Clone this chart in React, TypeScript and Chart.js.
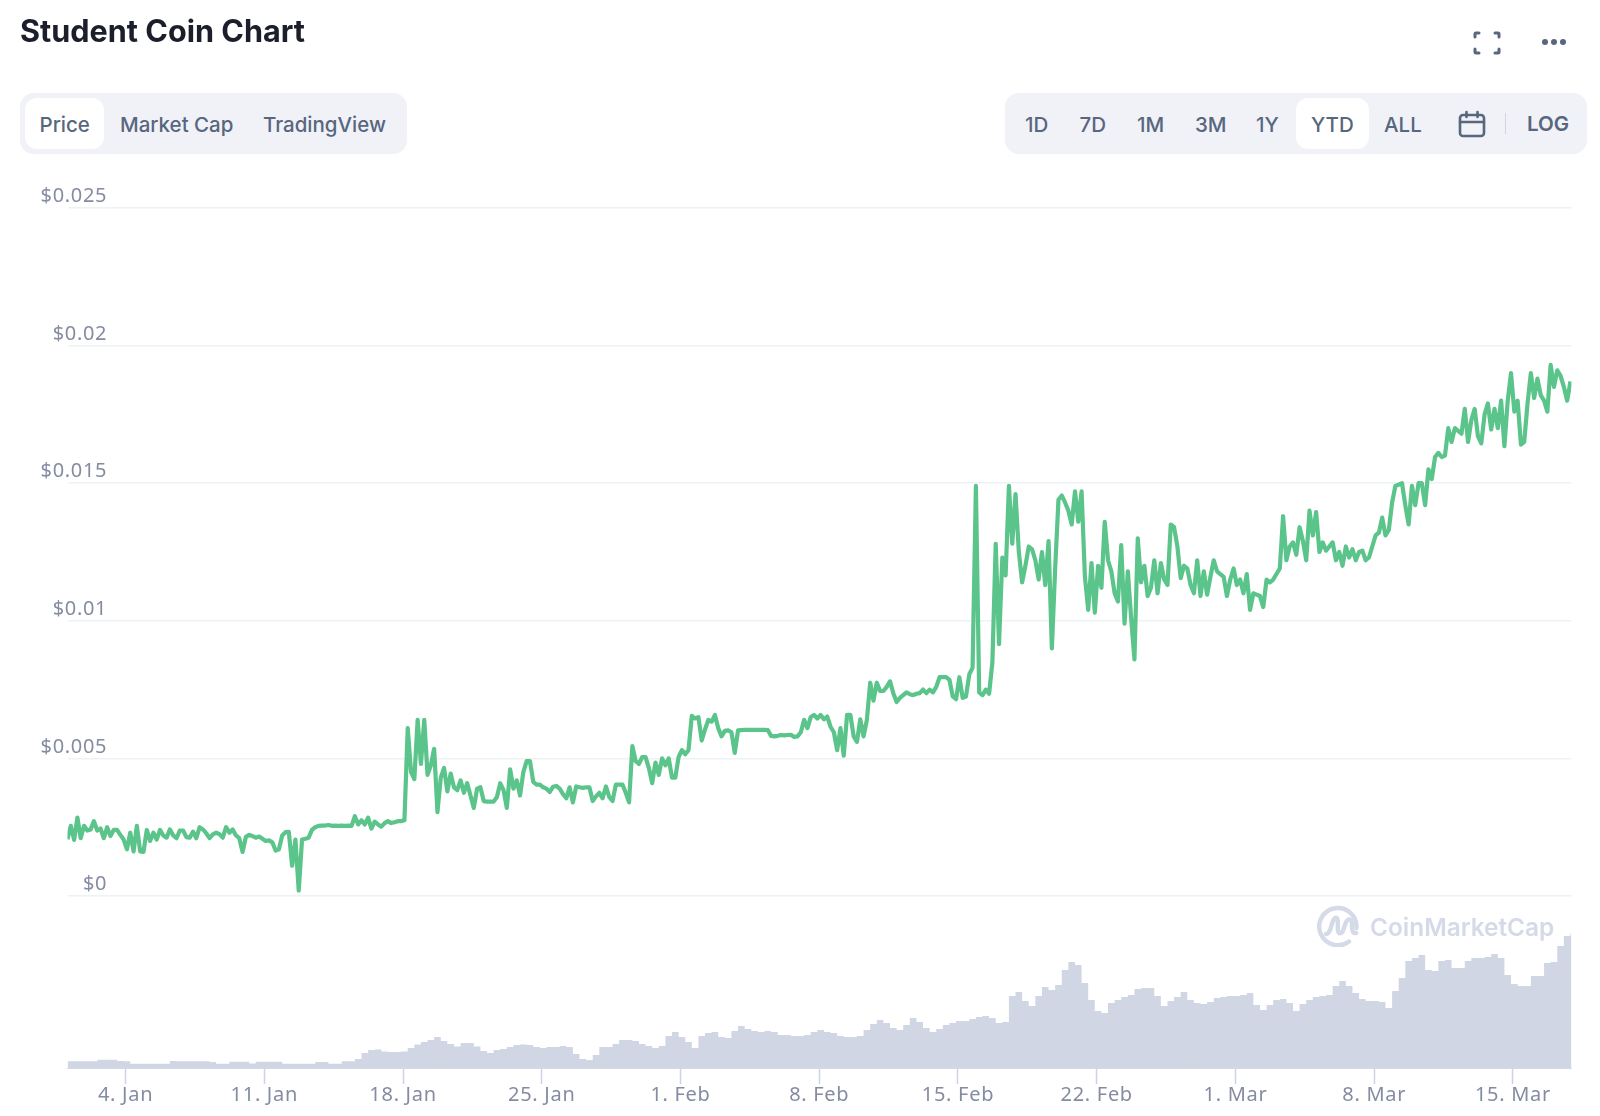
import { useEffect, useRef } from 'react';
import { Chart, registerables } from 'chart.js';
Chart.register(...registerables);

const FONT = 'Inter, "Noto Sans", sans-serif';
const AXIS_FONT = '"Noto Sans", sans-serif';

// days counted from 1 Jan
const xTickDays = [3, 10, 17, 24, 31, 38, 45, 52, 59, 66, 73];
const xTickLabels = ['4. Jan', '11. Jan', '18. Jan', '25. Jan', '1. Feb', '8. Feb', '15. Feb', '22. Feb', '1. Mar', '8. Mar', '15. Mar'];
const yTickValues = [0, 0.005, 0.01, 0.015, 0.02, 0.025];

const firstDay = 0.07;
const lastDay = 75.95;
const priceStep = 1 / 6;
const volumeStep = 1 / 3;

// price in thousandths of a dollar, one reading every 4 hours
const priceMilli = [
  2.06,2.55,2.04,2.85,2.1,2.55,2.38,2.42,2.72,2.38,2.45,2.1,2.5,2.18,2.4,2.4,2.22,2.05,1.7,2.3,1.62,2.55,1.62,1.6,2.4,2.0,2.3,2.05,2.4,2.2,2.12,2.42,2.2,2.1,2.38,2.38,2.14,2.12,2.34,2.1,2.5,2.42,
  2.28,2.1,2.24,2.3,2.25,2.12,2.5,2.3,2.42,2.2,2.1,1.6,2.15,2.22,2.18,2.12,2.16,2.08,2.0,2.02,1.95,1.65,1.7,2.2,2.32,2.33,1.1,2.05,0.2,2.05,2.08,2.12,2.4,2.5,2.55,2.56,2.56,2.58,2.55,2.56,2.55,2.56,
  2.55,2.56,2.55,2.9,2.6,2.75,2.6,2.85,2.45,2.7,2.6,2.52,2.65,2.72,2.65,2.68,2.72,2.72,2.75,6.1,4.5,4.25,6.4,4.8,6.4,4.4,4.75,5.35,3.05,4.3,4.65,3.8,4.45,3.95,3.85,4.2,3.75,4.1,3.65,3.2,3.9,3.95,
  3.45,3.43,3.43,3.43,3.6,4.1,3.85,3.2,4.6,3.9,4.2,3.65,4.5,4.9,4.9,4.15,4.05,4.05,3.95,3.9,3.78,3.97,4.0,3.9,3.7,3.55,3.95,3.4,3.98,3.95,3.93,3.95,3.95,3.45,3.62,3.75,3.55,3.98,3.6,3.45,4.05,4.05,
  4.05,3.75,3.4,5.45,4.9,4.8,5.05,5.05,4.65,4.1,4.85,4.4,5.0,4.75,5.0,4.3,4.3,5.05,5.3,5.15,5.3,6.55,6.45,6.5,5.65,6.05,6.4,6.33,6.58,6.1,5.8,6.0,6.02,5.95,5.2,6.02,6.03,6.04,6.04,6.04,6.04,6.04,
  6.04,6.04,6.03,5.82,5.8,5.82,5.85,5.84,5.85,5.86,5.78,5.8,5.95,6.4,6.1,6.5,6.58,6.45,6.58,6.42,6.52,6.15,5.95,5.3,6.1,5.1,6.58,6.58,5.8,5.6,6.42,5.8,6.4,7.75,7.1,7.75,7.45,7.45,7.6,7.8,7.37,7.05,
  7.2,7.3,7.4,7.33,7.3,7.35,7.37,7.5,7.37,7.5,7.4,7.6,7.95,7.95,7.95,7.85,7.25,7.15,7.95,7.2,7.25,8.05,8.3,14.9,7.4,7.3,7.5,7.35,8.5,12.8,9.15,12.3,11.65,14.9,12.8,14.6,12.5,11.4,12.0,12.7,12.6,12.2,
  11.5,12.5,11.3,12.9,9.0,11.9,14.4,14.55,14.3,14.0,13.5,14.7,13.6,14.7,11.6,10.4,12.1,10.3,12.0,11.2,13.6,12.2,11.8,11.0,10.7,12.75,9.9,11.8,10.1,8.6,13.0,11.4,12.0,10.9,11.2,12.2,11.0,12.1,11.5,11.3,13.5,13.4,
  12.7,11.55,12.0,11.9,11.3,11.0,12.2,10.9,11.8,10.95,11.6,12.2,11.8,11.7,11.6,10.9,11.5,11.9,11.3,11.5,11.0,11.7,10.4,11.0,10.95,10.9,10.5,11.5,11.4,11.5,11.7,11.9,13.8,12.2,12.7,12.85,12.4,13.4,12.9,12.2,14.0,13.1,
  13.95,12.5,12.85,12.55,12.7,12.85,12.2,12.5,12.0,12.7,12.3,12.6,12.2,12.5,12.55,12.2,12.3,12.7,13.1,13.2,13.75,13.1,13.3,14.3,14.9,14.95,15.0,14.2,13.5,14.9,14.2,15.0,15.0,14.2,15.5,15.15,15.95,16.1,15.95,16.0,17.0,16.5,
  17.0,16.9,16.8,17.7,16.5,17.3,17.7,16.7,16.45,17.5,17.9,16.95,17.7,17.0,18.0,16.35,18.0,19.0,17.6,18.0,16.4,16.5,17.9,19.0,18.1,18.8,18.2,18.0,17.6,19.3,18.5,19.1,18.9,18.5,18.0,18.7,
];

// volume, relative units, one reading every 8 hours
const volumeValues = [
  6.7,6.7,6.7,6.7,6.7,8.3,8.3,8.3,7,6.7,4.3,4.3,4.3,4.3,4.3,4.3,7,6.7,6.7,6.7,6.7,6.7,6,4.3,4.3,6.3,6.3,6.3,4.5,6.3,6.3,6.3,6.3,4.3,4.3,4.3,4.3,4.3,6,6,4.3,4.3,
  6.7,6.7,9,15,18,18.5,16.5,16,16,16.5,20,23.5,26,28,31,27,24,21.5,25,25,21.5,17,15,18,19,21,23,23.5,23,21,20,21,21,22,21,14,9,8,13,21,21,24,28,28,27,24,
  22,20,22,32,36,31,26,20,32,35,36,31,30,37,42,39,37,36,37,36,33,33,32,32,33,36,38,36,35,32,31,31,32,38,44,48,45,40,38,43,50,46,40,36,39,43,45,47,47,49,51,52,50,45,
  46,72,76,67,62,72,81,78,83,98,106,103,85,68,57,55,65,68,71,73,79,80,80,72,62,67,71,76,68,65,64,66,70,71,72,72,73,75,63,58,63,68,69,65,57,64,68,71,72,73,82,87,82,75,69,67,67,66,60,77,90,107,110,113,98,97,107,108,100,100,107,110,110,111,114,110,93,84,82,82,92,92,105,106,122,132,135,
];

// thin strip of controls above the chart
const leftTabs = [
  { label: 'Price', x: 39.5 },
  { label: 'Market Cap', x: 120 },
  { label: 'TradingView', x: 263 },
];
const rangeTabs = [
  { label: '1D', x: 1025 },
  { label: '7D', x: 1079.5 },
  { label: '1M', x: 1137 },
  { label: '3M', x: 1195 },
  { label: '1Y', x: 1256 },
  { label: 'YTD', x: 1311 },
  { label: 'ALL', x: 1384 },
];

const box = (left: number, top: number, width: number, height: number, radius: number, background: string): React.CSSProperties => ({
  position: 'absolute', left, top, width, height, borderRadius: radius, background,
});

// axis text in the picture is slightly tracked out
const axisTracking = {
  id: 'axisTracking',
  beforeUpdate: (chart: any) => { chart.ctx.letterSpacing = '0.7px'; },
  beforeDraw: (chart: any) => { chart.ctx.letterSpacing = '0.7px'; },
};

export default function App() {
  const canvasRef = useRef<HTMLCanvasElement>(null);

  useEffect(() => {
    document.body.style.margin = '0';
    const chart = new Chart(canvasRef.current!, {
      type: 'line',
      plugins: [axisTracking],
      data: {
        datasets: [
          {
            label: 'Price',
            yAxisID: 'y',
            order: 1,
            data: priceMilli.map((v, i) => ({ x: firstDay + i * priceStep, y: v / 1000 })),
            borderColor: '#5ac48a',
            borderWidth: 4.2,
            borderJoinStyle: 'round',
            pointRadius: 0,
            tension: 0,
          },
          {
            label: 'Volume',
            yAxisID: 'yVolume',
            order: 2,
            data: volumeValues.map((v, i) => ({ x: firstDay + i * volumeStep, y: v })),
            borderWidth: 0,
            backgroundColor: '#d1d6e5',
            fill: 'origin',
            stepped: 'middle',
            pointRadius: 0,
          },
        ],
      },
      options: {
        responsive: false,
        animation: false,
        layout: { padding: { top: 208, right: 28.6, left: 0, bottom: 0 } },
        plugins: { legend: { display: false }, tooltip: { enabled: false } },
        scales: {
          x: {
            type: 'linear',
            min: firstDay,
            max: lastDay,
            afterBuildTicks: (s: any) => { s.ticks = xTickDays.map(value => ({ value })); },
            afterFit: (s: any) => { s.height = 48; },
            border: { color: '#d3d9e8', width: 1 },
            grid: { drawOnChartArea: false, drawTicks: true, tickLength: 16, tickColor: '#ccd3e6', tickWidth: 1.5 },
            ticks: {
              autoSkip: false,
              maxRotation: 0,
              padding: -1,
              color: '#858ca2',
              font: { family: AXIS_FONT, size: 20 },
              callback: (v: any) => xTickLabels[xTickDays.indexOf(v)],
            },
          },
          y: {
            min: -0.00625,
            max: 0.025,
            afterBuildTicks: (s: any) => { s.ticks = yTickValues.map(value => ({ value })); },
            afterFit: (s: any) => { s.width = 67.5; },
            border: { display: false },
            grid: { color: '#eff2f5', lineWidth: 1.5, drawTicks: false },
            ticks: {
              autoSkip: false,
              mirror: true,
              crossAlign: 'far',
              padding: -27,
              labelOffset: -11.5,
              color: '#858ca2',
              font: { family: AXIS_FONT, size: 20 },
              callback: (v: any) => `$${v}`,
            },
          },
          yVolume: { display: false, min: 0, max: 860 },
        },
      },
    });
    return () => chart.destroy();
  }, []);

  const tabText = (label: string, x: number) => (
    <div key={label} style={{ position: 'absolute', left: x, top: 108.5, lineHeight: '32px', fontSize: 20.5, fontWeight: 500, color: '#58667e', whiteSpace: 'nowrap' }}>{label}</div>
  );

  return (
    <div style={{ position: 'relative', width: 1600, height: 1116, background: '#fff', fontFamily: FONT, overflow: 'hidden' }}>
      <canvas ref={canvasRef} width={1600} height={1116} style={{ position: 'absolute', left: 0, top: 0, display: 'block' }} />

      <div style={{ position: 'absolute', left: 20, top: 11, lineHeight: '40px', fontSize: 30.6, fontWeight: 700, color: '#1c1f2b', whiteSpace: 'nowrap' }}>Student Coin Chart</div>

      <svg style={{ position: 'absolute', left: 1472, top: 30 }} width={30} height={26} fill="none" stroke="#58667e" strokeWidth={3} strokeLinecap="round" strokeLinejoin="round">
        <path d="M3 7V4a1 1 0 0 1 1-1h3M23 3h3a1 1 0 0 1 1 1v3M27 19v3a1 1 0 0 1-1 1h-3M7 23H4a1 1 0 0 1-1-1v-3" />
      </svg>
      <svg style={{ position: 'absolute', left: 1540, top: 36 }} width={28} height={12} fill="#58667e">
        <circle cx={5} cy={6} r={3} /><circle cx={14} cy={6} r={3} /><circle cx={23} cy={6} r={3} />
      </svg>

      <div style={box(20, 93, 387, 61, 14, '#f0f2f7')} />
      <div style={box(25, 98, 79, 51, 12, '#fff')} />
      {leftTabs.map(t => tabText(t.label, t.x))}

      <div style={box(1005, 93, 582, 61, 14, '#f0f2f7')} />
      <div style={box(1296, 98, 73, 51, 12, '#fff')} />
      {rangeTabs.map(t => tabText(t.label, t.x))}
      <svg style={{ position: 'absolute', left: 1458, top: 110 }} width={28} height={28} fill="none" stroke="#58667e" strokeWidth={2.6} strokeLinecap="round" strokeLinejoin="round">
        <rect x={2} y={5} width={24} height={21} rx={3} />
        <path d="M2 12h24M8.500 2v5M19.500 2v5" />
      </svg>
      <div style={box(1504.5, 113, 1.5, 21, 0, '#cfd6e4')} />
      <div style={{ position: 'absolute', left: 1527, top: 108, lineHeight: '32px', fontSize: 20.5, fontWeight: 600, color: '#58667e' }}>LOG</div>

      <svg style={{ position: 'absolute', left: 1317, top: 904 }} width={42} height={43} viewBox="0 0 42 43" fill="none" stroke="#d5dae8" strokeWidth={4.4} strokeLinecap="round" strokeLinejoin="round">
        <path d="M32 37.500A18.600 18.600 0 1 1 39.400 24" />
        <path d="M9 30c3.500 0 4.600-5.600 6.400-11.500 1.700-5.600 5-6.300 5.400-1.500.3 4-.3 8 .2 10 .9 3.600 4.200 2.500 5.300-1 1.700-5.600 3-10.600 6-10.600 3.200 0 2.500 6.200 3 10.600.3 2.500 2 3.500 4 3" />
      </svg>
      <div style={{ position: 'absolute', left: 1370, top: 908, lineHeight: '38px', fontSize: 24.4, fontWeight: 600, color: '#d5dae8', whiteSpace: 'nowrap' }}>CoinMarketCap</div>
    </div>
  );
}
